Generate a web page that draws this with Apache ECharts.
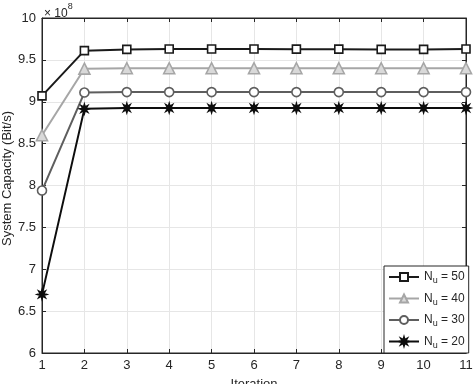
<!DOCTYPE html>
<html><head><meta charset="utf-8">
<script src="https://cdn.jsdelivr.net/npm/echarts@6/dist/echarts.min.js"></script>
<style>html,body{margin:0;padding:0;background:#fff}#c{width:474px;height:384px}</style>
</head><body><div id="c"></div>
<script>
const iterations = ['1','2','3','4','5','6','7','8','9','10','11'];
const nu50 = [9.07, 9.61, 9.625, 9.63, 9.63, 9.63, 9.628, 9.628, 9.625, 9.625, 9.63];
const nu40 = [8.6, 9.395, 9.4, 9.4, 9.4, 9.4, 9.4, 9.4, 9.4, 9.4, 9.4];
const nu30 = [7.94, 9.11, 9.115, 9.115, 9.115, 9.115, 9.115, 9.115, 9.115, 9.115, 9.115];
const nu20 = [6.70, 8.915, 8.925, 8.925, 8.925, 8.925, 8.925, 8.925, 8.925, 8.925, 8.925];
const seriesNames = ['50', '40', '30', '20'];
const yTicks = [6, 6.5, 7, 7.5, 8, 8.5, 9, 9.5, 10];

function starPath(n, ro, ri) {
  let d = '';
  for (let i = 0; i < 2 * n; i++) {
    const r = i % 2 === 0 ? ro : ri;
    const a = Math.PI * i / n - Math.PI / 2;
    const x = (10 + r * Math.cos(a)).toFixed(2), y = (10 + r * Math.sin(a)).toFixed(2);
    d += (i === 0 ? 'M' : 'L') + x + ' ' + y + ' ';
  }
  return 'path://' + d + 'Z';
}
const star = starPath(8, 10, 4.5);

const chart = echarts.init(document.getElementById('c'));
const font = 'Liberation Sans, Arial, Helvetica, sans-serif';
function mk(name, data, color, symbol, size, fill) {
  return {
    name: name, type: 'line', data: data, symbol: symbol, symbolSize: size,
    lineStyle: {color: color, width: 2}, itemStyle: {color: fill, borderColor: color, borderWidth: 1.6},
    emphasis: {disabled: true}, animation: false, z: 3
  };
}
chart.setOption({
  animation: false,
  grid: {left: 42, right: 8, top: 18, bottom: 31, show: true, borderColor: '#262626', borderWidth: 1, backgroundColor: '#fff', outerBoundsMode: 'none', containLabel: false},
  xAxis: [{
    type: 'category', data: iterations, boundaryGap: false,
    name: 'Iteration', nameLocation: 'middle', nameGap: 25, nameMoveOverlap: false,
    nameTextStyle: {color: '#262626', fontSize: 13, fontFamily: font},
    axisLine: {lineStyle: {color: '#262626'}},
    axisTick: {inside: true, length: 4, lineStyle: {color: '#262626'}},
    axisLabel: {color: '#262626', fontSize: 13, fontFamily: font, margin: 6},
    splitLine: {show: true, lineStyle: {color: '#e6e6e6'}}
  }, {
    type: 'category', data: iterations, boundaryGap: false, position: 'top',
    axisLine: {lineStyle: {color: '#262626'}},
    axisTick: {inside: true, length: 4, lineStyle: {color: '#262626'}},
    axisLabel: {show: false}, splitLine: {show: false}
  }],
  yAxis: [{
    type: 'value', min: 6, max: 10, interval: 0.5,
    name: 'System Capacity (Bit/s)', nameLocation: 'middle', nameGap: 28, nameRotate: 90, nameMoveOverlap: false,
    nameTextStyle: {color: '#262626', fontSize: 13, fontFamily: font, padding: [0, 0, 0, 14]},
    axisLine: {show: true, lineStyle: {color: '#262626'}},
    axisTick: {show: true, inside: true, length: 4, lineStyle: {color: '#262626'}},
    axisLabel: {color: '#262626', fontSize: 13, fontFamily: font, margin: 6,
      formatter: v => yTicks.indexOf(v) >= 0 ? String(v) : ''},
    splitLine: {show: true, lineStyle: {color: '#e6e6e6'}}
  }, {
    type: 'value', min: 6, max: 10, interval: 0.5, position: 'right',
    axisLine: {show: true, lineStyle: {color: '#262626'}},
    axisTick: {show: true, inside: true, length: 4, lineStyle: {color: '#262626'}},
    axisLabel: {show: false}, splitLine: {show: false}
  }],
  legend: {
    orient: 'vertical', left: 384, top: 266, width: 84,
    backgroundColor: '#fff', borderColor: '#262626', borderWidth: 1,
    padding: [5, 4, 3, 4], itemGap: 7, itemWidth: 30, itemHeight: 10,
    textStyle: {color: '#262626', fontSize: 12, fontFamily: font,
      rich: {s: {fontSize: 9, verticalAlign: 'bottom', padding: [8, 0, 0, 0], fontFamily: font, color: '#262626'},
             n: {fontSize: 12, fontFamily: font, color: '#262626'}}},
    formatter: name => '{n|N}{s|u}{n| = ' + name + '}',
    selectedMode: false
  },
  graphic: [{
    type: 'text', left: 44, top: 2,
    style: {text: '{a|× 10}{b|8}', rich: {a: {fontSize: 12, fontFamily: font, fill: '#262626', padding: [6,0,0,0]}, b: {fontSize: 9, fontFamily: font, fill: '#262626', verticalAlign: 'top', padding: [0,0,6,0]}}}
  }],
  series: [
    mk(seriesNames[0], nu50, '#1a1a1a', 'rect', 8, '#fff'),
    mk(seriesNames[1], nu40, '#a6a6a6', 'triangle', 11, '#d9d9d9'),
    mk(seriesNames[2], nu30, '#5e5e5e', 'circle', 9, '#fff'),
    mk(seriesNames[3], nu20, '#0d0d0d', star, 9, '#0d0d0d')
  ]
});
</script></body></html>
